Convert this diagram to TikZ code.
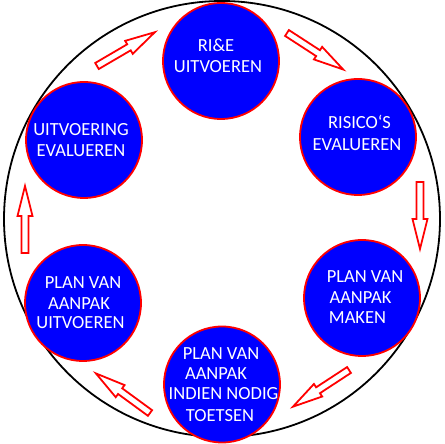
\documentclass[tikz,border=0pt]{standalone}
\usepackage{fontspec}
\setmainfont{Carlito}
\definecolor{cblue}{RGB}{0,0,255}
\definecolor{cred}{RGB}{255,0,0}
\tikzset{
  x=1pt,y=1pt,
  stepcircle/.style={circle,draw=cred,fill=cblue,line width=1.8pt,minimum size=116pt,inner sep=0pt},
  lbl/.style={anchor=base,text=white,inner sep=0pt,font=\fontsize{18.5}{21}\selectfont},
  blockarr/.pic={
    \draw[cred,fill=white,line width=1.8pt,line join=miter]
      (0,-3.5) -- (37,-3.5) -- (37,-7.5) -- (67,0) -- (37,7.5) -- (37,3.5) -- (0,3.5) -- cycle;
  }
}
\begin{document}
\begin{tikzpicture}
\useasboundingbox (0,0) rectangle (444,444);
\fill[white] (0,0) rectangle (444,444);
\draw[black,line width=1.8pt] (222,225) circle (218);
% circles
\node[stepcircle] (rie) at (221,383) {};
\node[stepcircle] (ris) at (358,307) {};
\node[stepcircle] (mak) at (362,146) {};
\node[stepcircle] (toe) at (222,59.5) {};
\node[stepcircle] (uit) at (83,141) {};
\node[stepcircle] (eva) at (84,304) {};
% labels
\node[lbl] (rie1) at (216,392) {RI\&E};
\node[lbl] (rie2) at (218,371) {UITVOEREN};
\node[lbl] (ris1) at (359.5,315) {RISICO\symbol{96}S};
\node[lbl] (ris2) at (357,293) {EVALUEREN};
\node[lbl] (mak1) at (365,161) {PLAN VAN};
\node[lbl] (mak2) at (360.5,140) {AANPAK};
\node[lbl] (mak3) at (357.5,120) {MAKEN};
\node[lbl] (toe1) at (221,84) {PLAN VAN};
\node[lbl] (toe2) at (216,64) {AANPAK};
\node[lbl] (toe3) at (223.5,44) {INDIEN NODIG};
\node[lbl] (toe4) at (220,23) {TOETSEN};
\node[lbl] (uit1) at (83,155) {PLAN VAN};
\node[lbl] (uit2) at (79,134) {AANPAK};
\node[lbl] (uit3) at (80.5,115) {UITVOEREN};
\node[lbl] (eva1) at (81,308) {UITVOERING};
\node[lbl] (eva2) at (81,287) {EVALUEREN};
% block arrows
\pic[rotate=30.3] (a1) at (97,378) {blockarr};
\pic[rotate=-33] (a2) at (287,411) {blockarr};
\pic[rotate=-90] (a3) at (420,262) {blockarr};
\pic[rotate=213.2] (a4) at (349,74) {blockarr};
\pic[rotate=143.8] (a5) at (150,31) {blockarr};
\pic[rotate=90] (a6) at (25,191) {blockarr};
\end{tikzpicture}
\end{document}
